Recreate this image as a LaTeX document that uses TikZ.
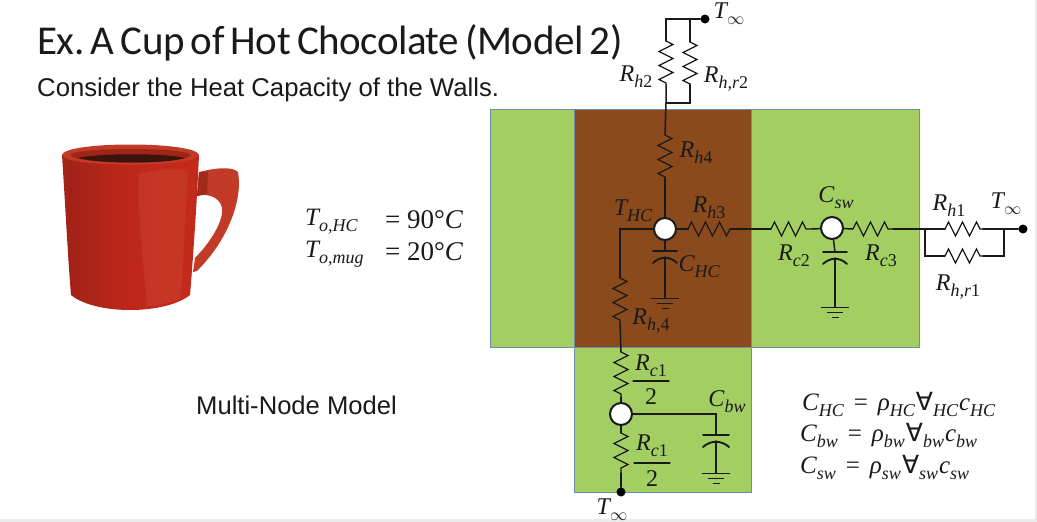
\documentclass[tikz,border=0pt]{standalone}
\usepackage{fontspec}
\setmainfont{Liberation Sans}
\newfontfamily\titlefont[LetterSpace=-1.2,WordSpace=0.72]{Carlito}
\newfontfamily\mfont{Liberation Serif}
\newfontfamily\symfont{DejaVu Sans}
\usetikzlibrary{decorations.pathmorphing}
\definecolor{wallgreen}{HTML}{A2CE62}
\definecolor{hcbrown}{HTML}{8B4A1C}
\definecolor{edgeblue}{HTML}{6F8FA8}
\definecolor{ink}{HTML}{1A1A1A}
\definecolor{mugA}{HTML}{B8301F}
\definecolor{mugB}{HTML}{B32C1C}
\definecolor{mugC}{HTML}{A32218}
\definecolor{mugD}{HTML}{B92618}
\definecolor{mugE}{HTML}{C42A1C}
\definecolor{mugF}{HTML}{C02A1B}
\definecolor{mugG}{HTML}{A92A1B}
\definecolor{mugPanel}{HTML}{C8452F}
\definecolor{mugHandle}{HTML}{C23A28}
\definecolor{mugHandleD}{HTML}{A22A1A}
\definecolor{mugRim}{HTML}{C13A28}
\definecolor{mugInner}{HTML}{9E2518}
\definecolor{mugDark}{HTML}{3A140A}
\pgfdeclarehorizontalshading{mugbody}{100bp}{
 color(0bp)=(mugA);color(10bp)=(mugB);color(28bp)=(mugC);color(45bp)=(mugD);color(62bp)=(mugE);color(80bp)=(mugF);color(100bp)=(mugG)}
\tikzset{
 x=1pt,y=-1pt,
 wire/.style={draw=ink,line width=1.5pt,line cap=round},
 res/.style={draw=ink,line width=1.3pt,line join=miter,decorate,decoration={zigzag,segment length=14pt,amplitude=7pt}},
 junc/.style={circle,draw=ink,fill=white,line width=2pt,minimum size=22pt,inner sep=0pt},
 term/.style={circle,fill=black,minimum size=9pt,inner sep=0pt},
 wall/.style={draw=edgeblue,line width=0.8pt},
 mlabel/.style={inner sep=0pt,text=ink,font=\mfont\fontsize{24}{26}\selectfont},
 eqn/.style={mlabel,anchor=west,font=\mfont\fontsize{25}{27}\selectfont},
 body/.style={inner sep=0pt,anchor=west,text=ink},
}
% symbol with subscript: letter, italic subscript part, upright subscript part
\newcommand{\vv}[3]{{\itshape #1}\raisebox{-0.24em}{\fontsize{18}{18}\selectfont{\itshape #2}#3}}
\newcommand{\inft}{\vv{T}{}{$\infty$}}
\newcommand{\fa}[1]{\hspace{1pt}{\symfont\fontsize{25}{25}\selectfont ∀}\raisebox{-0.24em}{\fontsize{18}{18}\selectfont\itshape #1}\hspace{1pt}}
\newcommand{\eqs}{\hspace{10pt}=\hspace{10pt}}
\newcommand{\capgnd}[5]{% x, y plate, half width, y ground, half ground width
 \draw[wire,line width=1.9pt] (#1-#3,#2)--(#1+#3,#2);
 \draw[wire,line width=1.9pt] (#1-#3,#2+12) .. controls (#1-#3*0.4,#2+5) and (#1+#3*0.4,#2+5) .. (#1+#3,#2+12);
 \draw[wire] (#1,#2+6)--(#1,#4);
 \draw[draw=ink,line width=1pt] (#1-#5,#4)--(#1+#5,#4);
 \draw[draw=ink,line width=1pt] (#1-#5*0.6,#4+5)--(#1+#5*0.6,#4+5);
 \draw[draw=ink,line width=1pt] (#1-#5*0.25,#4+10)--(#1+#5*0.25,#4+10);
}
\begin{document}
\frenchspacing
\begin{tikzpicture}
\useasboundingbox (0,0) rectangle (1037,522);
\fill[white] (0,0) rectangle (1037,522);
\fill[black!8] (0,519) rectangle (1037,522);
\fill[black!8] (1035,0) rectangle (1037,522);
% walls
\path[wall,fill=wallgreen] (490,109) rectangle (919,347);
\path[wall,fill=hcbrown] (574,109) rectangle (751,347);
\path[wall,fill=wallgreen] (574,347) rectangle (751,492);
% title & text
\node[body,font=\titlefont\fontsize{41}{46}\selectfont] (title) at (37,43) {Ex. A Cup of Hot Chocolate (Model 2)};
\node[body,font=\fontsize{25.7}{30}\selectfont] (sub) at (37,90) {Consider the Heat Capacity of the Walls.};
\node[body,font=\fontsize{25.6}{30}\selectfont] (mnm) at (196,405) {Multi-Node Model};
% mug
\shade[shading=mugbody] (62,155) .. controls (65,200) and (68,260) .. (71,295) .. controls (95,315) and (165,315) .. (190,295) .. controls (193,260) and (197,200) .. (199,155) -- cycle;
\fill[mugPanel,opacity=0.45] (139,174) .. controls (155,169) and (175,169) .. (188,171) -- (181,298) .. controls (170,303) and (155,306) .. (147,306) .. controls (143,260) and (137,210) .. (139,174) -- cycle;
\fill[mugHandle] (199,172) .. controls (215,168) and (232,166) .. (238,172) .. controls (243,200) and (228,240) .. (197,271) -- (193,272) -- (195,258) .. controls (208,245) and (224,222) .. (222,208) .. controls (220,196) and (205,193) .. (197,196) -- cycle;
\fill[mugHandleD] (199,172) -- (208,172) -- (207,194) -- (197,196) -- cycle;
\fill[mugRim] (62,155) .. controls (65,141) and (196,141) .. (199,155) .. controls (196,168) and (65,168) .. (62,155) -- cycle;
\fill[mugInner] (70,155) .. controls (75,147) and (186,147) .. (191,155) .. controls (186,165) and (75,165) .. (70,155) -- cycle;
\fill[mugDark] (78,158) .. controls (100,153) and (165,153) .. (185,158) .. controls (165,164) and (100,164) .. (78,158) -- cycle;
% anchors
\node[term] (Ttop) at (705,19) {};
\coordinate (tl) at (666,19); \coordinate (tr) at (690,19);
\coordinate (ra) at (666,41); \coordinate (rb) at (666,85);
\coordinate (rc) at (690,42); \coordinate (rd) at (690,84);
\coordinate (bl) at (666,103); \coordinate (br) at (690,103);
\coordinate (r4a) at (665,135); \coordinate (r4b) at (665,178);
\node[junc] (HC) at (665,229) {};
\coordinate (hl) at (620,229);
\coordinate (r5a) at (620,278); \coordinate (r5b) at (620,323);
\coordinate (r6a) at (621,352); \coordinate (r6b) at (621,397);
\node[junc] (BW) at (621,414) {};
\coordinate (r7a) at (621,433); \coordinate (r7b) at (621,473);
\node[term] (Tbot) at (621,492) {};
\coordinate (bwc) at (716,414); \coordinate (bwp) at (716,435);
\coordinate (r3a) at (688,229); \coordinate (r3b) at (730,229);
\coordinate (r2a) at (771,229); \coordinate (r2b) at (812,229);
\node[junc] (SW) at (832,228) {};
\coordinate (r8a) at (853,229); \coordinate (r8b) at (893,229);
\coordinate (jl) at (925,229); \coordinate (jr) at (1004,229);
\coordinate (r1a) at (945,229); \coordinate (r1b) at (983,229);
\coordinate (lb) at (925,256); \coordinate (rb2) at (1004,256);
\coordinate (r9a) at (945,256); \coordinate (r9b) at (983,256);
\node[term] (Tright) at (1023,229) {};
\coordinate (hcp) at (665,251); \coordinate (swp) at (835,252);
% connectors
\draw[wire] (Ttop) -- (tl) -- (ra);
\draw[wire] (tr) -- (rc);
\draw[res] (ra) -- (rb);
\draw[res] (rc) -- (rd);
\draw[wire] (rd) -- (br) -- (bl);
\draw[wire] (rb) -- (bl) -- (r4a);
\draw[res] (r4a) -- (r4b);
\draw[wire] (r4b) -- (HC);
\draw[wire] (HC) -- (hl) -- (r5a);
\draw[res] (r5a) -- (r5b);
\draw[wire] (r5b) -- (r6a);
\draw[res] (r6a) -- (r6b);
\draw[wire] (r6b) -- (BW);
\draw[wire] (BW) -- (r7a);
\draw[res] (r7a) -- (r7b);
\draw[wire] (r7b) -- (Tbot);
\draw[wire] (BW) -- (bwc) -- (bwp);
\draw[wire] (HC) -- (r3a);
\draw[res] (r3a) -- (r3b);
\draw[wire] (r3b) -- (r2a);
\draw[res] (r2a) -- (r2b);
\draw[wire] (r2b) -- (SW);
\draw[wire] (SW) -- (r8a);
\draw[res] (r8a) -- (r8b);
\draw[wire] (r8b) -- (jl) -- (r1a);
\draw[res] (r1a) -- (r1b);
\draw[wire] (r1b) -- (jr) -- (Tright);
\draw[wire] (jl) -- (lb) -- (r9a);
\draw[res] (r9a) -- (r9b);
\draw[wire] (r9b) -- (rb2) -- (jr);
\draw[wire] (HC) -- (hcp);
\draw[wire] (SW) -- (swp);
\capgnd{665}{251}{12}{298}{14}
\capgnd{835}{252}{12}{307}{14}
\capgnd{716}{435}{13}{473}{14}
% labels
\node[mlabel] (lTt) at (729,14) {\inft};
\node[mlabel] (lRh2) at (636,77) {\vv{R}{h}{2}};
\node[mlabel] (lRhr2) at (726,79) {\vv{R}{h,r}{2}};
\node[mlabel] (lRh4) at (696,153) {\vv{R}{h}{4}};
\node[mlabel] (lTHC) at (633,211) {\vv{T}{HC}{}};
\node[mlabel] (lRh3) at (709,208) {\vv{R}{h}{3}};
\node[mlabel] (lCHC) at (699,267) {\vv{C}{HC}{}};
\node[mlabel] (lRh42) at (651,321) {\vv{R}{h,}{4}};
\node[mlabel] (lRc2) at (794,256) {\vv{R}{c}{2}};
\node[mlabel] (lRc3) at (881,256) {\vv{R}{c}{3}};
\node[mlabel] (lCsw) at (836,198) {\vv{C}{sw}{}};
\node[mlabel] (lRh1) at (949,206) {\vv{R}{h}{1}};
\node[mlabel] (lTr) at (1006,204) {\inft};
\node[mlabel] (lRhr1) at (958,287) {\vv{R}{h,r}{1}};
\node[mlabel] (lf1a) at (651,366) {\vv{R}{c}{1}};
\node[mlabel] (lf1b) at (651,397) {2};
\draw[wire,line width=1.1pt] (633,381)--(669,381);
\node[mlabel] (lf2a) at (652,446) {\vv{R}{c}{1}};
\node[mlabel] (lf2b) at (652,479) {2};
\draw[wire,line width=1.1pt] (634,463)--(670,463);
\node[mlabel] (lCbw) at (727,402) {\vv{C}{bw}{}};
\node[mlabel] (lTb) at (612,510) {\inft};
\node[eqn] (eq1) at (802,404) {\vv{C}{HC}{}\eqs\vv{ρ}{HC}{}\fa{HC}\vv{c}{HC}{}};
\node[eqn] (eq2) at (800,435) {\vv{C}{bw}{}\eqs\vv{ρ}{bw}{}\fa{bw}\vv{c}{bw}{}};
\node[eqn] (eq3) at (800,467) {\vv{C}{sw}{}\eqs\vv{ρ}{sw}{}\fa{sw}\vv{c}{sw}{}};
\node[eqn] (t1) at (305,222) {\vv{T}{o,HC}{}};
\node[eqn,font=\mfont\fontsize{27}{28}\selectfont] (t1b) at (385,220) {= 90°\textit{C}};
\node[eqn] (t2) at (305,254) {\vv{T}{o,mug}{}};
\node[eqn,font=\mfont\fontsize{27}{28}\selectfont] (t2b) at (385,252) {= 20°\textit{C}};
\end{tikzpicture}
\end{document}
